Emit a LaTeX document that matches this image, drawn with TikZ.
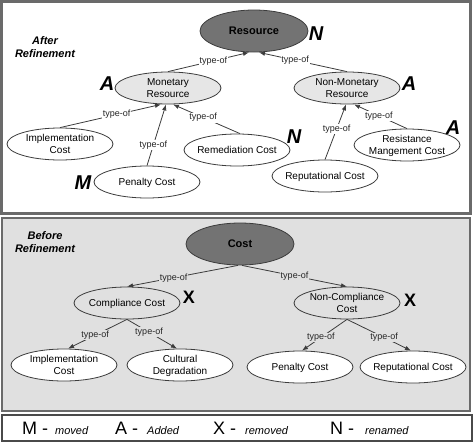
\documentclass[tikz,border=0pt]{standalone}
\usepackage{fontspec}
\setmainfont{Liberation Sans}
\usetikzlibrary{shapes.geometric,arrows.meta}
\definecolor{edgec}{HTML}{3C3C3C}
\definecolor{darkfill}{HTML}{737373}
\definecolor{lightfill}{HTML}{E6E6E6}
\definecolor{panelbg}{HTML}{E0E0E0}
\definecolor{framec}{HTML}{6A6A6A}
\newcommand{\nodeone}[1]{\makebox[0pt]{\raisebox{-0.36em}[0pt][0pt]{#1}}}
\newcommand{\nodetwo}[2]{\makebox[0pt]{\raisebox{-9.6pt}[0pt][0pt]{\begin{tabular}[b]{@{}c@{}}#1\\#2\end{tabular}}}}
\begin{document}
\begin{tikzpicture}[x=1pt,y=-1pt,
  basenode/.style={ellipse, draw=edgec, line width=0.8pt, inner sep=0pt,
    minimum width=106pt, minimum height=32pt, font=\fontsize{10}{12}\selectfont},
  leaf/.style={basenode, fill=white},
  mid/.style={basenode, fill=lightfill},
  midb/.style={basenode, fill=panelbg},
  root/.style={basenode, fill=darkfill, minimum width=108pt, minimum height=42pt,
    font=\fontsize{11}{13}\selectfont\bfseries},
  rel/.style={draw=edgec, line width=0.8pt, -{Latex[length=6pt,width=4.5pt]}},
  lbl/.style={font=\fontsize{9}{10}\selectfont, inner sep=0.8pt, fill=white, text=black!85},
  lblb/.style={lbl, fill=panelbg},
  mk/.style={font=\fontsize{20}{22}\selectfont\bfseries\itshape, inner sep=0pt},
  xmk/.style={font=\fontsize{18}{20}\selectfont\bfseries, inner sep=0pt},
  ttl/.style={font=\fontsize{11}{12.5}\selectfont\bfseries\itshape, align=center, inner sep=0pt},
  legl/.style={font=\fontsize{18}{20}\selectfont, inner sep=0pt, anchor=base west},
  legw/.style={font=\fontsize{11}{13}\selectfont\itshape, inner sep=0pt, anchor=base west}
]
\useasboundingbox (0,0) rectangle (474,442);
% frames
\draw[framec, line width=2.5pt] (1.5,1.5) rectangle (470.5,213.5);
\draw[framec, line width=2pt, fill=panelbg] (1.5,218) rectangle (469.5,411);
\draw[framec!70!black, line width=2pt, fill=white] (1.5,414.5) rectangle (472,440.5);

% titles
\node[ttl] (after) at (45,47) {After\\Refinement};
\node[ttl] (before) at (45,242) {Before\\Refinement};

% top nodes
\node[root] (res) at (254,31) {\nodeone{Resource}};
\node[mid] (mon) at (168,88) {\nodetwo{Monetary}{Resource}};
\node[mid] (nmon) at (347,88) {\nodetwo{Non-Monetary}{Resource}};
\node[leaf] (impl) at (60,144) {\nodetwo{Implementation}{Cost}};
\node[leaf] (pen) at (147,182) {\nodeone{Penalty Cost}};
\node[leaf] (rem) at (237,150) {\nodeone{Remediation Cost}};
\node[leaf] (rep) at (325,176) {\nodeone{Reputational Cost}};
\node[leaf] (resm) at (407,145) {\nodetwo{Resistance}{Mangement Cost}};

% top edges
\draw[rel] (mon.north) -- node[lbl,pos=.56]{type-of} ([xshift=-5pt]res.south);
\draw[rel] (nmon.north) -- node[lbl,pos=.59]{type-of} ([xshift=5pt]res.south);
\draw[rel] (impl.north) -- node[lbl,pos=.56]{type-of} ([xshift=-7pt]mon.south);
\draw[rel] (pen.north) -- node[lbl,pos=.34]{type-of} ([xshift=-2pt]mon.south);
\draw[rel] ([xshift=3pt]rem.north) -- node[lbl,pos=.55]{type-of} ([xshift=5pt]mon.south);
\draw[rel] (rep.north) -- node[lbl,pos=.55]{type-of} ([xshift=-1pt]nmon.south);
\draw[rel] (resm.north) -- node[lbl,pos=.53]{type-of} ([xshift=7pt]nmon.south);

% top marks
\node[mk] (mres) at (316,34) {N};
\node[mk] (mmon) at (107,84) {A};
\node[mk] (mnmon) at (409,84) {A};
\node[mk] (mpen) at (83,183) {M};
\node[mk] (mrem) at (294,137) {N};
\node[mk] (mresm) at (453,128) {A};

% bottom nodes
\node[root] (cost) at (240,244) {\nodeone{Cost}};
\node[midb] (comp) at (127,303) {\nodeone{Compliance Cost}};
\node[midb] (ncomp) at (347,303) {\nodetwo{Non-Compliance}{Cost}};
\node[leaf] (implb) at (64,365) {\nodetwo{Implementation}{Cost}};
\node[leaf] (cult) at (180,365) {\nodetwo{Cultural}{Degradation}};
\node[leaf] (penb) at (300,367) {\nodeone{Penalty Cost}};
\node[leaf] (repb) at (413,367) {\nodeone{Reputational Cost}};

% bottom edges
\draw[rel] ([xshift=-2pt]cost.south) -- node[lblb,pos=.58]{type-of} (comp.north);
\draw[rel] ([xshift=2pt]cost.south) -- node[lblb,pos=.5]{type-of} (ncomp.north);
\draw[rel] (comp.south) -- node[lblb,pos=.54]{type-of} ([xshift=4pt]implb.north);
\draw[rel] (comp.south) -- node[lblb,pos=.44]{type-of} ([xshift=-3pt]cult.north);
\draw[rel] (ncomp.south) -- node[lblb,pos=.58]{type-of} ([xshift=2pt]penb.north);
\draw[rel] (ncomp.south) -- node[lblb,pos=.58]{type-of} ([xshift=-2pt]repb.north);

% bottom marks
\node[xmk] (xcomp) at (189,297) {X};
\node[xmk] (xncomp) at (410,300) {X};

% legend
\node[legl] (lm) at (22,434) {M -};
\node[legw] (wm) at (55,434) {moved};
\node[legl] (la) at (115,434) {A -};
\node[legw] (wa) at (147,434) {Added};
\node[legl] (lx) at (213,434) {X -};
\node[legw] (wx) at (245,434) {removed};
\node[legl] (ln) at (330,434) {N -};
\node[legw] (wn) at (365,434) {renamed};
\end{tikzpicture}
\end{document}
